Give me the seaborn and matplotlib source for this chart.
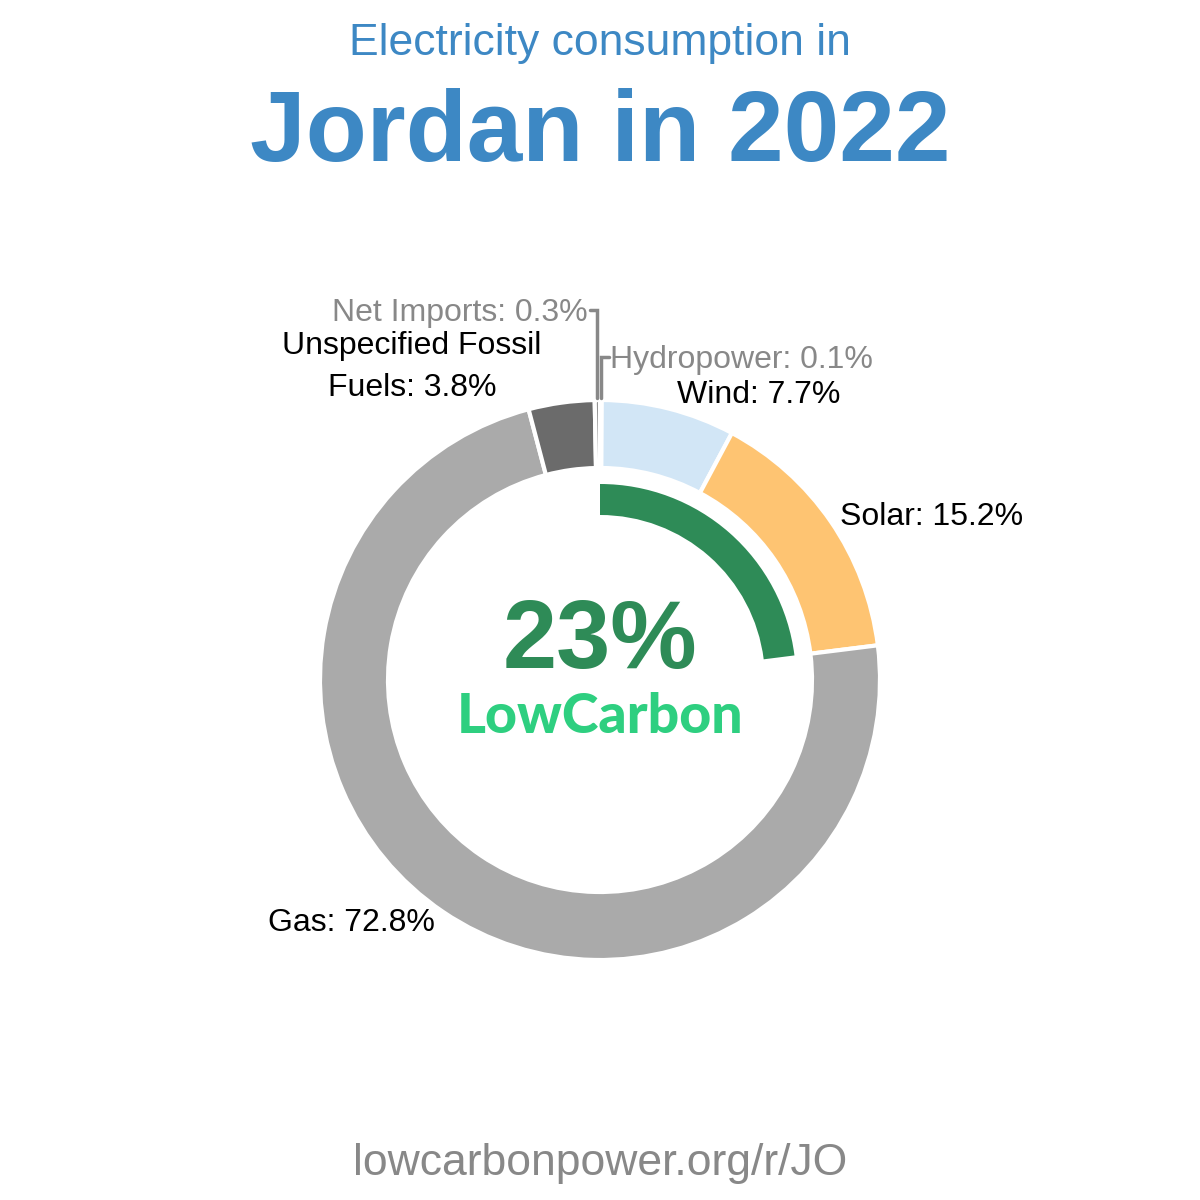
import matplotlib
matplotlib.use("Agg")
import matplotlib.pyplot as plt
import seaborn as sns

# ------------------------------------------------------------
# data
# ------------------------------------------------------------
sources = ["Hydropower", "Wind", "Solar", "Gas", "Unspecified Fossil Fuels", "Net Imports"]
shares = [0.1, 7.7, 15.2, 72.8, 3.8, 0.3]
colors = ["#4f8fcf", "#d2e6f6", "#fec472", "#aaaaaa", "#6b6b6b", "#8c8c8c"]
low_carbon = 23

sns.set_theme(style="white")
plt.rcParams["font.family"] = ["Liberation Sans", "DejaVu Sans"]

fig = plt.figure(figsize=(12, 12), dpi=100)
ax = fig.add_axes([0, 0, 1, 1])

# outer donut, centre at pixel (600, 680) -> data y = 1200 - 680
cx, cy = 600, 520
ax.pie(shares, colors=colors, startangle=90, counterclock=False,
       radius=280, center=(cx, cy),
       wedgeprops=dict(width=68, edgecolor="white", linewidth=3))

# inner low-carbon arc
ax.pie([low_carbon, 100 - low_carbon], colors=["#2e8b57", "none"],
       startangle=90, counterclock=False, radius=196, center=(cx, cy),
       wedgeprops=dict(width=31, linewidth=0))

ax.set_xlim(0, 1200)
ax.set_ylim(0, 1200)
ax.set_aspect("equal")
ax.axis("off")

def py(y):
    # pixel row -> data y
    return 1200 - y

# titles
ax.text(600, py(44), "Electricity consumption in", ha="center", va="center",
        fontsize=32, color="#3d88c4")
ax.text(600, py(135), "Jordan in 2022", ha="center", va="center",
        fontsize=72, fontweight="bold", color="#3d88c4")

# centre text
ax.text(600, py(643), f"{low_carbon}%", ha="center", va="center",
        fontsize=70, fontweight="bold", color="#2e8b57")
ax.text(600, py(717), "LowCarbon", ha="center", va="center",
        fontsize=40, fontweight="black", color="#2ecf80",
        family=["Lato", "DejaVu Sans"])

# slice labels
lbl = 23
ax.text(588, py(313), f"Net Imports: {shares[5]}%", ha="right", va="center",
        fontsize=lbl, color="#888888")
ax.text(412, py(367), f"Unspecified Fossil\nFuels: {shares[4]}%", ha="center",
        va="center", fontsize=lbl, color="black", linespacing=1.5)
ax.text(610, py(360), f"Hydropower: {shares[0]}%", ha="left", va="center",
        fontsize=lbl, color="#888888")
ax.text(759, py(395), f"Wind: {shares[1]}%", ha="center", va="center",
        fontsize=lbl, color="black")
ax.text(840, py(517), f"Solar: {shares[2]}%", ha="left", va="center",
        fontsize=lbl, color="black")
ax.text(351, py(923), f"Gas: {shares[3]}%", ha="center", va="center",
        fontsize=lbl, color="black")

# leader lines for the tiny slices
ax.plot([590, 597, 597], [py(310), py(310), py(398)], color="#888888", lw=2.5,
        solid_joinstyle="miter")
ax.plot([609, 601, 601], [py(357), py(357), py(398)], color="#888888", lw=2.5,
        solid_joinstyle="miter")

# footer
ax.text(600, py(1163), "lowcarbonpower.org/r/JO", ha="center", va="center",
        fontsize=32, color="#888888")

fig.savefig("out.png", dpi=100, facecolor="white")
